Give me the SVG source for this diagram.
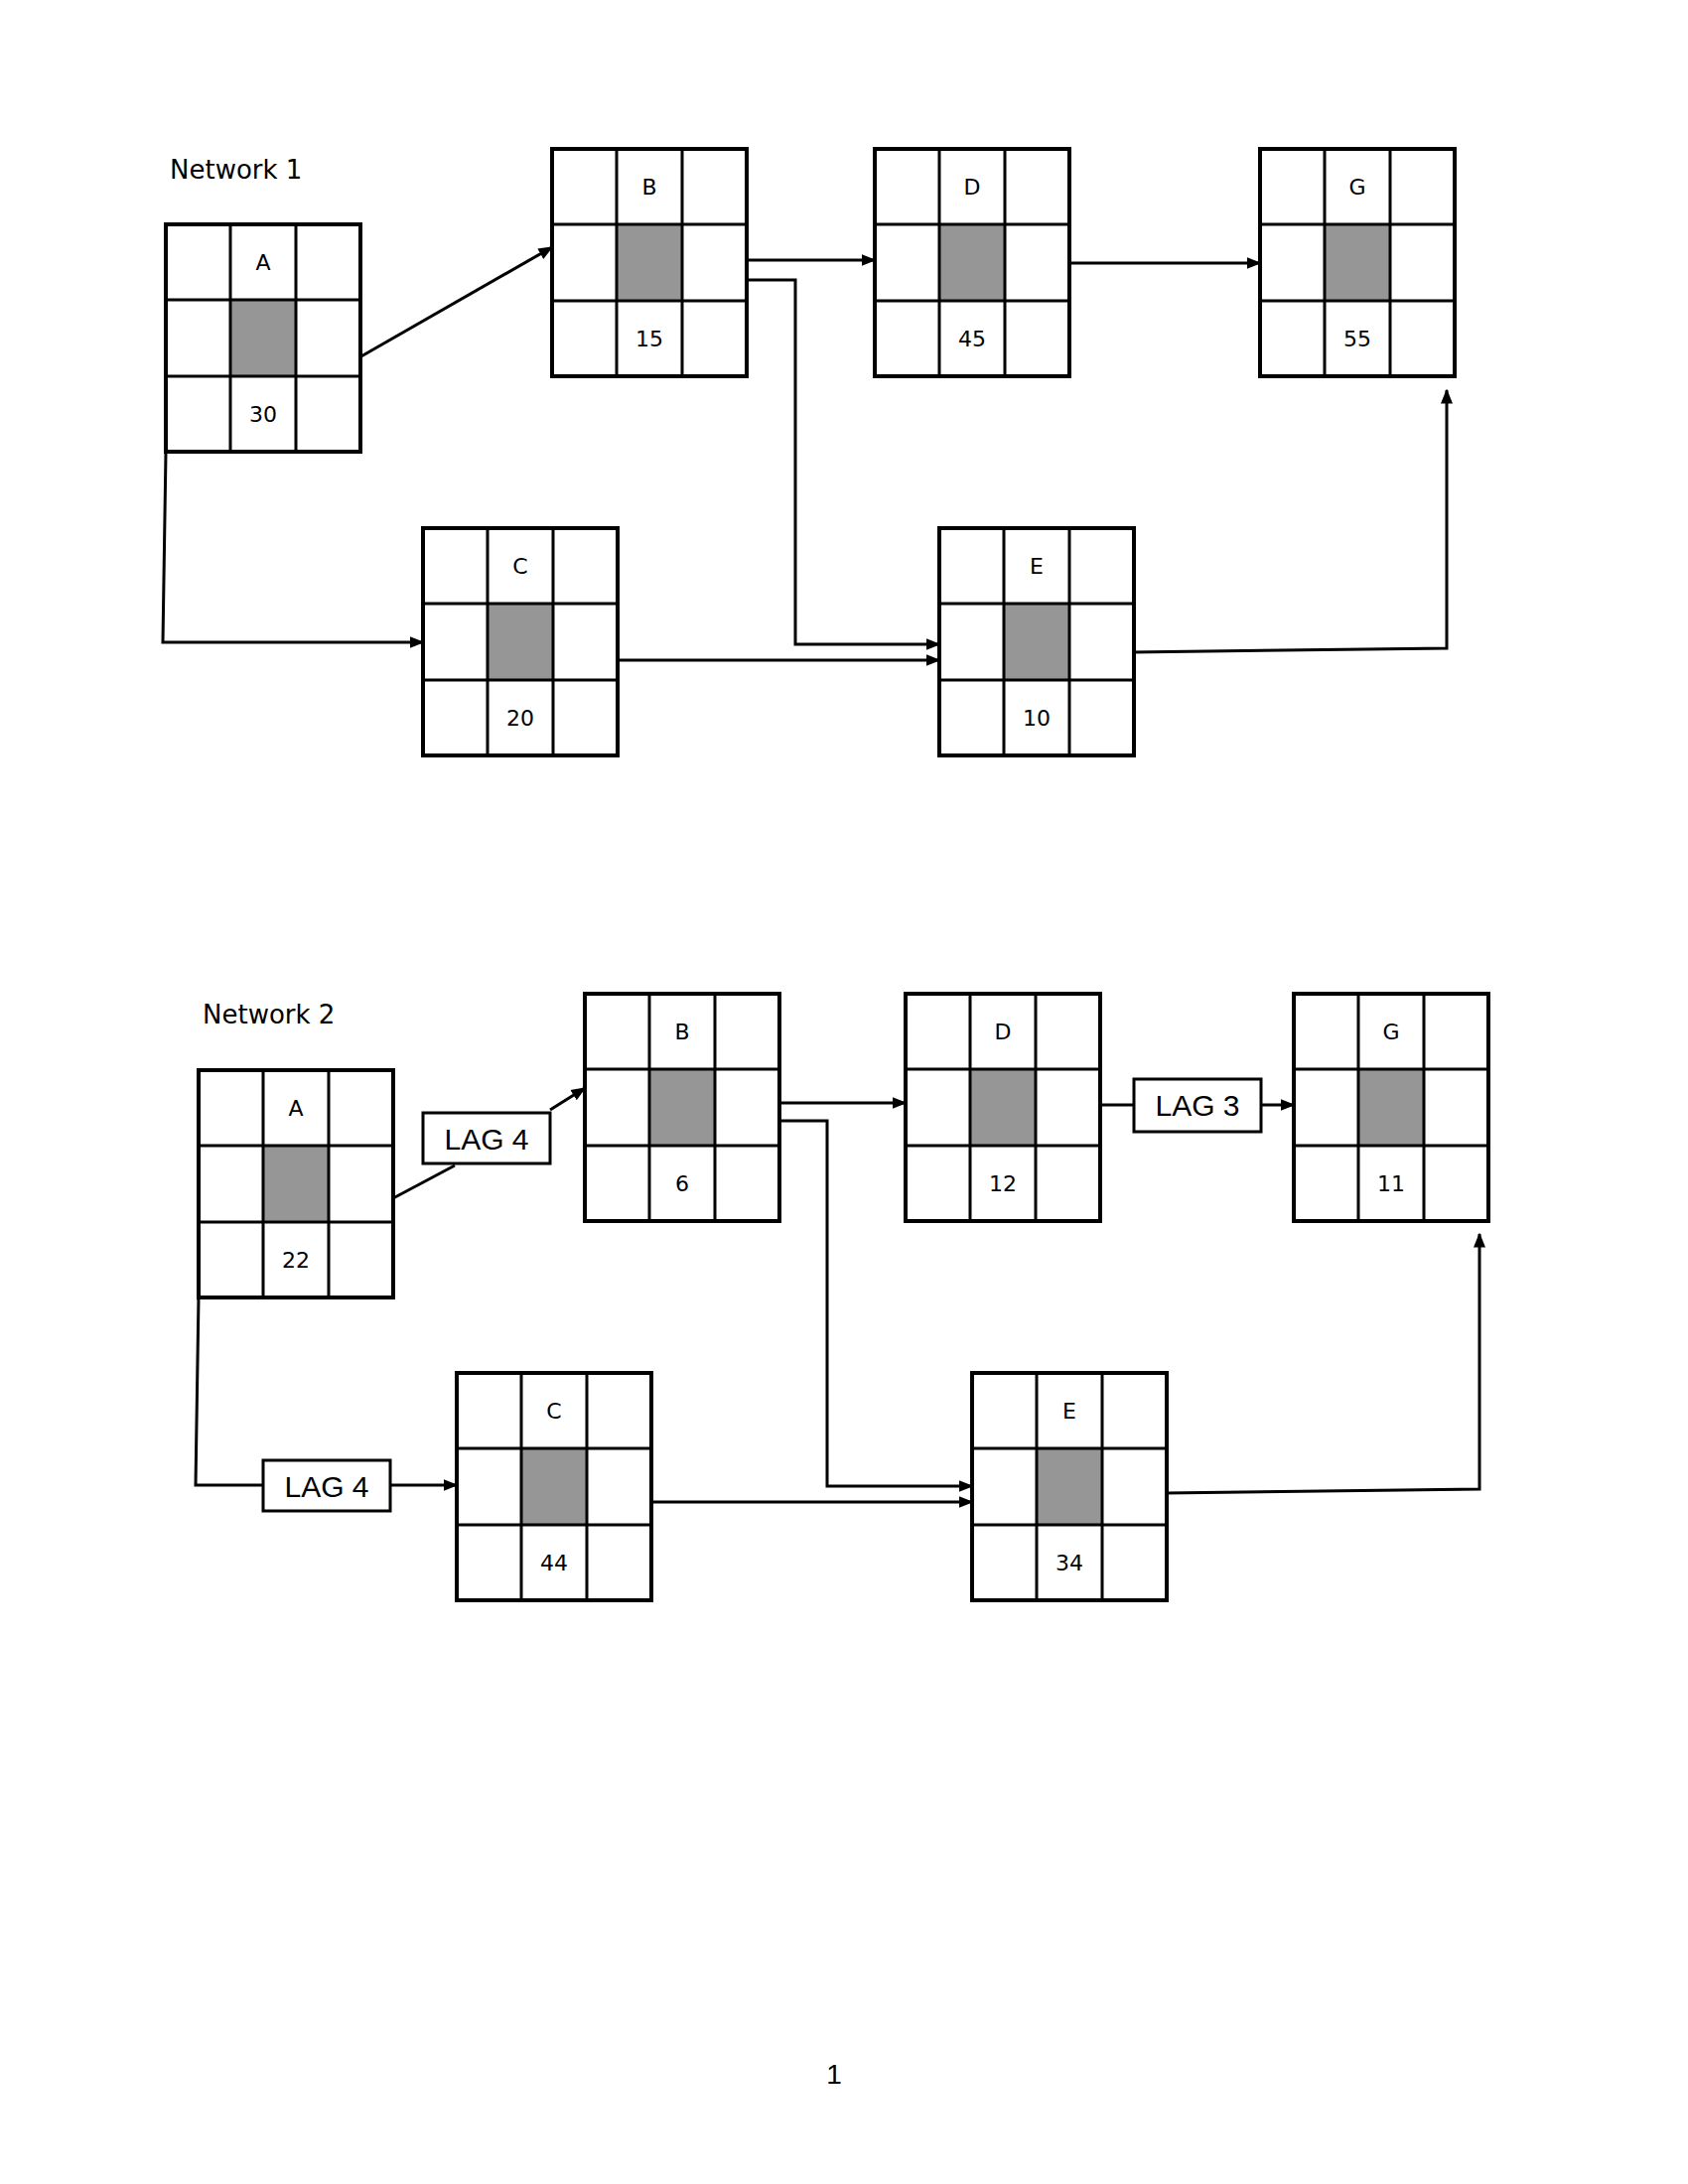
<svg xmlns="http://www.w3.org/2000/svg" width="1700" height="2200" viewBox="0 0 1700 2200">
<style>
.c{fill:none;stroke:#000;stroke-width:3}
.o{fill:none;stroke:#000;stroke-width:4}
.g{fill:#969696}
.t{font-family:"DejaVu Sans",Verdana,sans-serif;font-size:22px;text-anchor:middle}
.l{font-family:"DejaVu Sans",Verdana,sans-serif;font-size:26px}
.lag{font-family:"Liberation Sans",Arial,sans-serif;font-size:30px;text-anchor:middle}
.w{fill:none;stroke:#000;stroke-width:3}
.lb{fill:#fff;stroke:#000;stroke-width:3}
</style>
<defs>
<marker id="ah" viewBox="0 0 10 10" refX="9" refY="5" markerWidth="5" markerHeight="5" orient="auto"><path d="M0,1 L10,5 L0,9 z"/></marker>
<g id="box">
<rect x="65" y="76" width="66" height="77" class="g"/>
<path d="M65,0V229M131,0V229M0,76H196M0,153H196" class="c"/>
<rect x="0" y="0" width="196" height="229" class="o"/>
</g>
</defs>
<rect width="1700" height="2200" fill="#fff"/>
<text x="171" y="180" class="l">Network 1</text>
<text x="204" y="1031" class="l">Network 2</text>
<g id="n1A"><use href="#box" x="167" y="226"/><text x="265" y="272" class="t">A</text><text x="265" y="425" class="t">30</text></g>
<g id="n1B"><use href="#box" x="556" y="150"/><text x="654" y="196" class="t">B</text><text x="654" y="349" class="t">15</text></g>
<g id="n1D"><use href="#box" x="881" y="150"/><text x="979" y="196" class="t">D</text><text x="979" y="349" class="t">45</text></g>
<g id="n1G"><use href="#box" x="1269" y="150"/><text x="1367" y="196" class="t">G</text><text x="1367" y="349" class="t">55</text></g>
<g id="n1C"><use href="#box" x="426" y="532"/><text x="524" y="578" class="t">C</text><text x="524" y="731" class="t">20</text></g>
<g id="n1E"><use href="#box" x="946" y="532"/><text x="1044" y="578" class="t">E</text><text x="1044" y="731" class="t">10</text></g>
<g id="n2A"><use href="#box" x="200" y="1078"/><text x="298" y="1124" class="t">A</text><text x="298" y="1277" class="t">22</text></g>
<g id="n2B"><use href="#box" x="589" y="1001"/><text x="687" y="1047" class="t">B</text><text x="687" y="1200" class="t">6</text></g>
<g id="n2D"><use href="#box" x="912" y="1001"/><text x="1010" y="1047" class="t">D</text><text x="1010" y="1200" class="t">12</text></g>
<g id="n2G"><use href="#box" x="1303" y="1001"/><text x="1401" y="1047" class="t">G</text><text x="1401" y="1200" class="t">11</text></g>
<g id="n2C"><use href="#box" x="460" y="1383"/><text x="558" y="1429" class="t">C</text><text x="558" y="1582" class="t">44</text></g>
<g id="n2E"><use href="#box" x="979" y="1383"/><text x="1077" y="1429" class="t">E</text><text x="1077" y="1582" class="t">34</text></g>
<g id="connectors">
<path d="M362,360L556,249" class="w" marker-end="url(#ah)"/>
<path d="M751,262H881" class="w" marker-end="url(#ah)"/>
<path d="M751,282H801V649H946" class="w" marker-end="url(#ah)"/>
<path d="M167,456L164,647H426" class="w" marker-end="url(#ah)"/>
<path d="M622,665H946" class="w" marker-end="url(#ah)"/>
<path d="M1076,265H1269" class="w" marker-end="url(#ah)"/>
<path d="M1140,657L1457,653V393" class="w" marker-end="url(#ah)"/>
<path d="M396,1207L458,1174" class="w"/>
<path d="M554,1118L589,1096" class="w" marker-end="url(#ah)"/>
<path d="M785,1111H912" class="w" marker-end="url(#ah)"/>
<path d="M785,1129H833V1497H979" class="w" marker-end="url(#ah)"/>
<path d="M1110,1113H1142" class="w"/>
<path d="M1270,1113H1303" class="w" marker-end="url(#ah)"/>
<path d="M200,1307L197,1496H265" class="w"/>
<path d="M394,1496H460" class="w" marker-end="url(#ah)"/>
<path d="M654,1513H979" class="w" marker-end="url(#ah)"/>
<path d="M1174,1504L1490,1500V1243" class="w" marker-end="url(#ah)"/>
<g id="lag1"><rect x="426" y="1121" width="128" height="51" class="lb"/><text x="490" y="1158" class="lag">LAG 4</text></g>
<g id="lag2"><rect x="1142" y="1087" width="128" height="53" class="lb"/><text x="1206" y="1124" class="lag">LAG 3</text></g>
<g id="lag3"><rect x="265" y="1471" width="128" height="51" class="lb"/><text x="329" y="1508" class="lag">LAG 4</text></g>
</g>
<text x="840" y="2099" font-family="Liberation Sans,Arial,sans-serif" font-size="28" text-anchor="middle">1</text>
</svg>
